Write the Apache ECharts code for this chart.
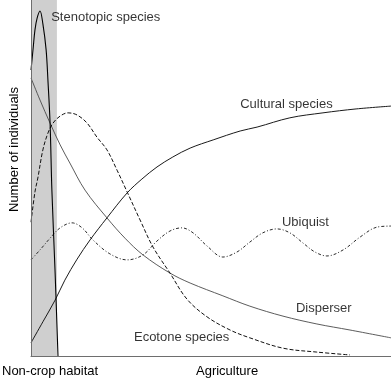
<!DOCTYPE html>
<html lang="en">
<head>
  <meta charset="UTF-8">
  <title>Species response along habitat gradient</title>
  <script src="https://cdn.jsdelivr.net/npm/echarts@6/dist/echarts.min.js"></script>
  <style>
    html, body { margin: 0; padding: 0; background: #fff; }
  </style>
</head>
<body>
<div id="main" style="width: 391px;height:379px;"></div>
<script>
  // gradient position (0 = non-crop habitat, 100 = agriculture) vs. relative abundance
  var stenotopic = [[0, 80.3], [0.6, 86.5], [1.1, 91.6], [1.7, 94.9], [2.5, 96.9], [3.3, 93.3],
    [4.2, 86.0], [4.7, 77.5], [5.3, 65.4], [5.8, 46.6], [6.7, 23.3], [7.5, 0]];

  var ecotone = [[0, 37.6], [1.1, 46.1], [1.9, 50.0], [3.3, 57.9], [4.7, 62.6], [6.1, 65.4],
    [8.1, 67.4], [10.3, 68.3], [12.8, 67.7], [15.6, 65.4], [18.3, 61.5], [21.1, 57.9],
    [23.9, 52.2], [26.7, 46.1], [30.3, 38.2], [33.9, 30.6], [38.6, 23.3], [43.3, 16.0],
    [48.9, 11.0], [55.3, 7.3], [60.8, 5.1], [70.0, 2.2], [79.4, 1.1], [88.6, 0.3]];

  var disperser = [[0, 78.1], [2.5, 71.9], [5.3, 65.4], [8.1, 59.3], [10.8, 54.2], [15.0, 46.6],
    [21.1, 38.8], [26.1, 33.1], [31.1, 28.4], [38.6, 23.3], [44.2, 20.5], [53.3, 16.9],
    [60.8, 14.0], [70.0, 11.2], [79.4, 9.0], [88.6, 7.3], [100, 5.1]];

  var cultural = [[0, 3.7], [3.3, 9.6], [6.7, 15.7], [9.4, 21.3], [12.8, 27.2], [16.4, 32.6],
    [21.1, 38.8], [26.7, 45.8], [30.8, 49.7], [35.0, 53.1], [39.4, 55.9], [44.2, 58.4],
    [50.6, 60.7], [58.1, 63.2], [62.8, 64.3], [71.9, 66.9], [81.1, 68.3], [90.3, 69.4], [100, 70.2]];

  var ubiquist = [[0, 27.0], [2.5, 29.8], [5.3, 33.1], [8.1, 36.0], [11.4, 37.4], [14.2, 36.0],
    [17.2, 32.6], [21.9, 28.7], [26.7, 27.0], [31.1, 28.4], [35.0, 32.3], [38.6, 35.1],
    [41.9, 36.0], [45.0, 34.6], [48.9, 30.9], [53.3, 27.8], [57.2, 29.2], [60.8, 32.0],
    [64.4, 34.6], [68.3, 35.7], [71.9, 34.6], [75.6, 31.7], [78.9, 29.2], [82.2, 28.1],
    [86.7, 29.8], [91.4, 33.4], [96.1, 36.2], [100, 36.5]];

  // non-crop habitat band on the gradient
  var habitatBand = [0, 7.2];

  // curve names and where they are written
  var curveLabels = [
    [5.6, 95.2, 'Stenotopic species'],
    [58.1, 70.8, 'Cultural species'],
    [69.7, 37.6, 'Ubiquist'],
    [73.6, 13.5, 'Disperser'],
    [28.6, 5.3, 'Ecotone species']
  ];

  var font = '"Liberation Sans", Arial, sans-serif';

  var myChart = echarts.init(document.querySelector('#main'));

  function curve(name, data, style) {
    return {
      name: name,
      type: 'line',
      data: data,
      showSymbol: false,
      smooth: 0.35,
      silent: true,
      animation: false,
      lineStyle: style,
      z: 3
    };
  }

  var option = {
    animation: false,
    grid: {left: 31, right: 0, top: 0, bottom: 23},
    xAxis: {
      type: 'value', min: 0, max: 100, z: 5,
      axisLine: {show: true, lineStyle: {color: '#6e6e6e', width: 1}},
      axisTick: {show: false}, axisLabel: {show: false}, splitLine: {show: false}
    },
    yAxis: {
      type: 'value', min: 0, max: 100, z: 5,
      axisLine: {show: true, lineStyle: {color: '#6e6e6e', width: 1}},
      axisTick: {show: false}, axisLabel: {show: false}, splitLine: {show: false}
    },
    series: [
      {
        type: 'line', data: [], silent: true,
        markArea: {
          silent: true,
          itemStyle: {color: '#cfcfcf'},
          data: [[{xAxis: habitatBand[0]}, {xAxis: habitatBand[1]}]]
        },
        z: 1
      },
      curve('Disperser', disperser, {color: '#4a4a4a', width: 0.9}),
      curve('Cultural species', cultural, {color: '#1a1a1a', width: 1}),
      curve('Ubiquist', ubiquist, {color: '#2a2a2a', width: 1, type: [3, 2, 1, 2]}),
      curve('Ecotone species', ecotone, {color: '#111', width: 1, type: [4, 2]}),
      curve('Stenotopic species', stenotopic, {color: '#000', width: 1.1}),
      {
        type: 'scatter',
        data: curveLabels,
        symbolSize: 0,
        silent: true,
        z: 6,
        label: {
          show: true,
          position: 'right',
          distance: 0,
          color: '#000',
          fontFamily: font,
          fontSize: 13,
          formatter: function (p) { return p.data[2]; }
        }
      }
    ],
    graphic: [
      {type: 'text', left: 2, top: 365, style: {text: 'Non-crop habitat', fill: '#000', font: '13px ' + font}},
      {type: 'text', left: 196, top: 365, style: {text: 'Agriculture', fill: '#000', font: '13px ' + font}},
      {type: 'text', x: 8, y: 212, rotation: Math.PI / 2,
        style: {text: 'Number of individuals', fill: '#000', font: '13px ' + font}}
    ]
  };

  myChart.setOption(option);
</script>
</body>
</html>
